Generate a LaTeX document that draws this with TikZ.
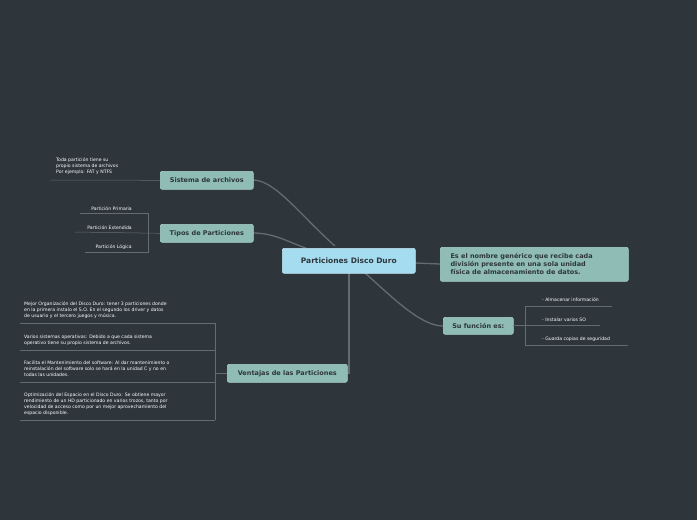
\documentclass[tikz,border=0pt]{standalone}
\usepackage{fontspec}
\setmainfont{DejaVu Sans}
\begin{document}
\begin{tikzpicture}[x=1pt,y=-1pt,
  conn/.style={draw=lineg,line width=1.3pt},
  thin/.style={draw=lineg,line width=0.5pt},
  topic/.style={fill=teal1,draw=teal2,line width=0.6pt,rounded corners=2pt,text=textd,font=\bfseries\fontsize{6.5}{8}\selectfont,inner sep=0pt,anchor=north west},
  leaf/.style={text=white,font=\fontsize{4.6}{5.8}\selectfont,inner sep=0pt,anchor=north west,align=left}]
\definecolor{bg}{HTML}{2E363C}
\definecolor{lineg}{HTML}{636C70}
\definecolor{teal1}{HTML}{8FBCB5}
\definecolor{teal2}{HTML}{A9D3CC}
\definecolor{blue1}{HTML}{A6DCF0}
\definecolor{textd}{HTML}{2E363C}
\fill[bg] (0,0) rectangle (697,520);
\useasboundingbox (0,0) rectangle (697,520);
% connectors
\coordinate (c1) at (335,246);
\draw[conn] (253,180) .. controls (275,180) and (300,215) .. (c1);
\draw[conn] (253,233) .. controls (275,233) and (290,243) .. (306,248);
\draw[conn] (349,273) -- (349,373) -- (347,373);
\draw[conn] (365,273) .. controls (390,295) and (420,326) .. (443,326);
\draw[conn] (415,263) -- (440,264);
% center
\node[topic,fill=blue1,draw=blue1!70!white,minimum width=133,minimum height=25,font=\bfseries\fontsize{7.5}{9}\selectfont] (center) at (282,248) {};
\node[text=textd,font=\bfseries\fontsize{7.5}{9}\selectfont] at (center.center) {Particiones Disco Duro};
\node[topic,minimum width=188,minimum height=34] (desc) at (440,247) {};
\node[text=textd,font=\bfseries\fontsize{6.5}{7.6}\selectfont,align=left,anchor=west] at (447,264) {Es el nombre genérico que recibe cada\\división presente en una sola unidad\\física de almacenamiento de datos.};
\node[topic,minimum width=93,minimum height=18] (sis) at (160,171) {};
\node[text=textd,font=\bfseries\fontsize{6.5}{8}\selectfont] at (sis.center) {Sistema de archivos};
\node[topic,minimum width=93,minimum height=18] (tip) at (160,224) {};
\node[text=textd,font=\bfseries\fontsize{6.5}{8}\selectfont] at (tip.center) {Tipos de Particiones};
\node[topic,minimum width=120,minimum height=18] (ven) at (227,364) {};
\node[text=textd,font=\bfseries\fontsize{6.5}{8}\selectfont] at (ven.center) {Ventajas de las Particiones};
\node[topic,minimum width=70,minimum height=17] (fun) at (443,317) {};
\node[text=textd,font=\bfseries\fontsize{6.5}{8}\selectfont] at (fun.center) {Su función es:};
% Sistema leaf
\node[leaf] (s1) at (56,158) {Toda partición tiene su\\propio sistema de archivos\\Por ejemplo: FAT y NTFS};
\draw[thin] (50,180) -- (sis.west);
% Tipos leaves
\node[leaf,anchor=south east] (t1) at (132,211) {Partición Primaria};
\node[leaf,anchor=south east] (t2) at (132,230) {Partición Extendida};
\node[leaf,anchor=south east] (t3) at (132,250) {Partición Lógica};
\draw[thin] (80,213) -- (148,213) -- (148,252) -- (85,252);
\draw[thin] (75,232) -- (tip.west);
% Ventajas leaves
\node[leaf] (v1) at (24,302) {Mejor Organización del Disco Duro: tener 3 particiones donde\\en la primera instalo el S.O. En el segundo los driver y datos\\de usuario y el tercero juegos y música.};
\node[leaf] (v2) at (24,335) {Varios sistemas operativos: Debido a que cada sistema\\operativo tiene su propio sistema de archivos.};
\node[leaf] (v3) at (24,361) {Facilita el Mantenimiento del software: Al dar mantenimiento o\\reinstalación del software solo se hará en la unidad C y no en\\todas las unidades.};
\node[leaf] (v4) at (24,393) {Optimización del Espacio en el Disco Duro: Se obtiene mayor\\rendimiento de un HD particionado en varios trozos, tanto por\\velocidad de acceso como por un mejor aprovechamiento del\\espacio disponible.};
\draw[thin] (20,323) -- (215,323);
\draw[thin] (20,350) -- (215,350);
\draw[thin] (20,382) -- (215,382);
\draw[thin] (20,420) -- (215,420);
\draw[thin] (215,323) -- (215,420);
\draw[thin] (215,373) -- (ven.west |- 0,373);
% Su funcion leaves
\node[leaf] (f1) at (542,298) {- Almacenar información};
\node[leaf] (f2) at (542,318) {- Instalar varios SO};
\node[leaf] (f3) at (542,337) {- Guarda copias de seguridad};
\draw[thin] (612,306) -- (525,306) -- (525,345) -- (628,345);
\draw[thin] (513,325) -- (600,325);
\end{tikzpicture}
\end{document}
